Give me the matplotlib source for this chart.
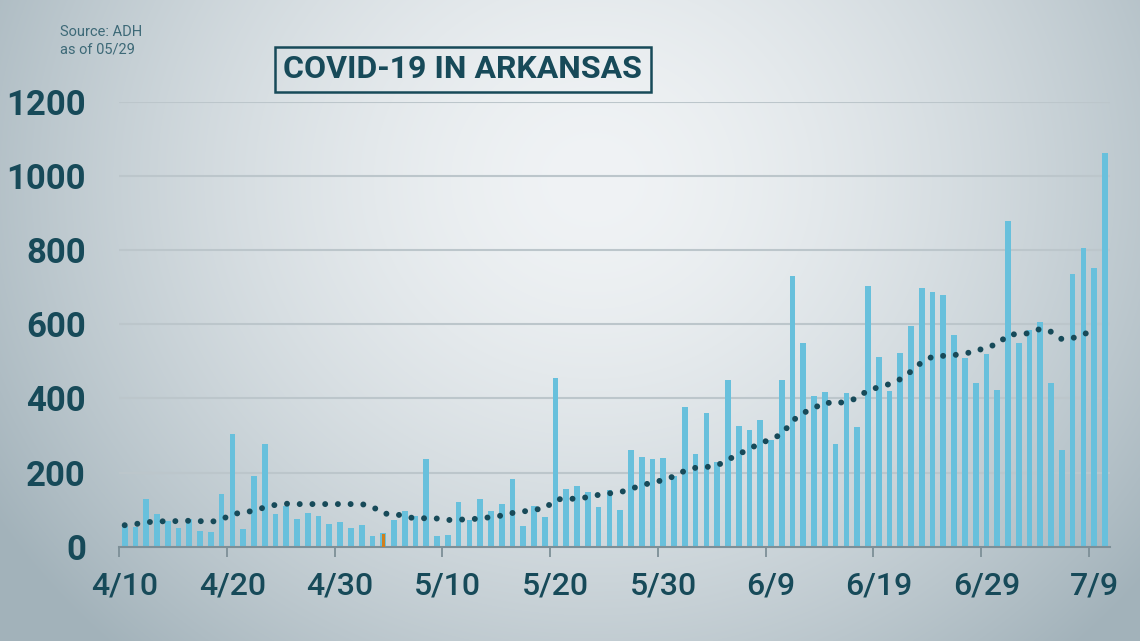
import matplotlib
matplotlib.use("Agg")
import matplotlib.pyplot as plt
import numpy as np

# daily new cases, starting 4/10
cases = [57, 52, 130, 87, 70, 51, 74, 43, 41, 141,
         303, 49, 190, 276, 89, 110, 76, 92, 82, 62,
         66, 51, 58, 28, 38, 72, 97, 82, 238, 28,
         32, 120, 73, 130, 97, 115, 182, 56, 110, 80,
         456, 155, 163, 147, 108, 152, 99, 262, 241, 236,
         240, 191, 376, 251, 360, 228, 451, 326, 315, 341,
         288, 449, 731, 549, 407, 418, 276, 415, 323, 704,
         512, 420, 523, 596, 699, 687, 680, 572, 508, 441,
         521, 422, 880, 549, 586, 606, 441, 260, 735, 807,
         752, 1063]

# 7-day average (dotted line)
avg = [58, 61, 66, 68, 69, 69, 70, 69, 67, 73,
       89, 91, 98, 106, 113, 116, 115, 115, 115, 115,
       115, 115, 115, 108, 89, 89, 82, 76, 77, 76,
       72, 73, 74, 76, 80, 84, 91, 95, 100, 103,
       127, 130, 129, 134, 140, 144, 147, 156, 166, 173,
       180, 190, 205, 213, 215, 219, 235, 249, 265, 278,
       291, 303, 340, 361, 374, 390, 385, 393, 400, 423,
       430, 439, 452, 473, 498, 513, 515, 517, 522, 526,
       540, 545, 572, 574, 576, 588, 580, 560, 563, 572,
       588]

orange_day = 24
orange_value = 35

date_labels = ['4/10', '4/20', '4/30', '5/10', '5/20', '5/30',
               '6/9', '6/19', '6/29', '7/9']
y_ticks = [0, 200, 400, 600, 800, 1000, 1200]

dark = '#174a59'
bar_col = '#68c0dc'

fig = plt.figure(figsize=(11.4, 6.41), dpi=100)

# background gradient
bg = fig.add_axes([0, 0, 1, 1], zorder=-10)
h, w = 641, 1140
yy, xx = np.mgrid[0:h, 0:w]
d = np.sqrt(((xx / w - 0.52) / 0.62) ** 2 + ((yy / h - 0.28) / 1.0) ** 2)
t = np.clip(d, 0, 1) ** 1.6
light = np.array([240, 243, 245]) / 255
darkc = np.array([162, 178, 186]) / 255
img = light[None, None, :] * (1 - t[..., None]) + darkc[None, None, :] * t[..., None]
bg.imshow(img, aspect='auto', extent=[0, 1, 0, 1])
bg.axis('off')

ax = fig.add_axes([119.3 / 1140, (641 - 546.7) / 641, 991 / 1140, 444.7 / 641])
ax.patch.set_alpha(0)

x = np.arange(len(cases)) + 0.5
ax.bar(x, cases, width=0.53, color=bar_col, zorder=2)
ax.bar(orange_day + 0.5, orange_value, width=0.28, color='#d07f1f', zorder=3)

xa = np.arange(len(avg)) + 0.5
ax.plot(xa, avg, color=dark, lw=4.3, linestyle=(0, (0.001, 2.13)),
        dash_capstyle='round', zorder=4)

ax.set_xlim(0, 92)
ax.set_ylim(0, 1200)
for s in ['top', 'right', 'left']:
    ax.spines[s].set_visible(False)
ax.spines['bottom'].set_color('#7d8f97')
ax.spines['bottom'].set_linewidth(1.5)

ax.set_yticks(y_ticks)
ax.set_yticklabels([str(v) for v in y_ticks])
ax.tick_params(axis='y', length=0, pad=24, labelsize=25, labelcolor=dark)
for lab in ax.get_yticklabels():
    lab.set_fontfamily('Roboto')
    lab.set_fontweight('bold')
for v in y_ticks[1:]:
    ax.axhline(v, color='#bcc6cb', lw=1.5, zorder=1)

ax.set_xticks(np.arange(0, 91, 10))
ax.set_xticklabels([])
ax.set_xticks(np.arange(0, 91, 10) + 0.5, minor=True)
ax.set_xticklabels(date_labels, minor=True)
ax.tick_params(axis='x', which='major', length=7, width=1.3, color='#7d8f97')
ax.tick_params(axis='x', which='minor', length=0, pad=18, labelsize=23,
               labelcolor=dark)
for lab in ax.get_xticklabels(minor=True):
    lab.set_fontfamily('Roboto')
    lab.set_fontweight('medium')

fig.text(60 / 1140, 1 - 36.5 / 641, 'Source: ADH', fontsize=10.5,
         family='Roboto', color='#3d6977', va='baseline')
fig.text(60 / 1140, 1 - 53 / 641, 'as of 05/29', fontsize=10.5,
         family='Roboto', color='#3d6977', va='baseline')

fig.text(462.5 / 1140, 1 - 69.5 / 641, 'COVID-19 IN ARKANSAS', fontsize=23,
         family='Roboto', fontweight='bold', color=dark,
         ha='center', va='center')
box = plt.Rectangle((275 / 1140, 1 - 91.5 / 641), 376 / 1140, 45 / 641,
                    transform=fig.transFigure, fill=False, edgecolor=dark, lw=1.8)
fig.patches.append(box)

fig.savefig('out.png', dpi=100)
